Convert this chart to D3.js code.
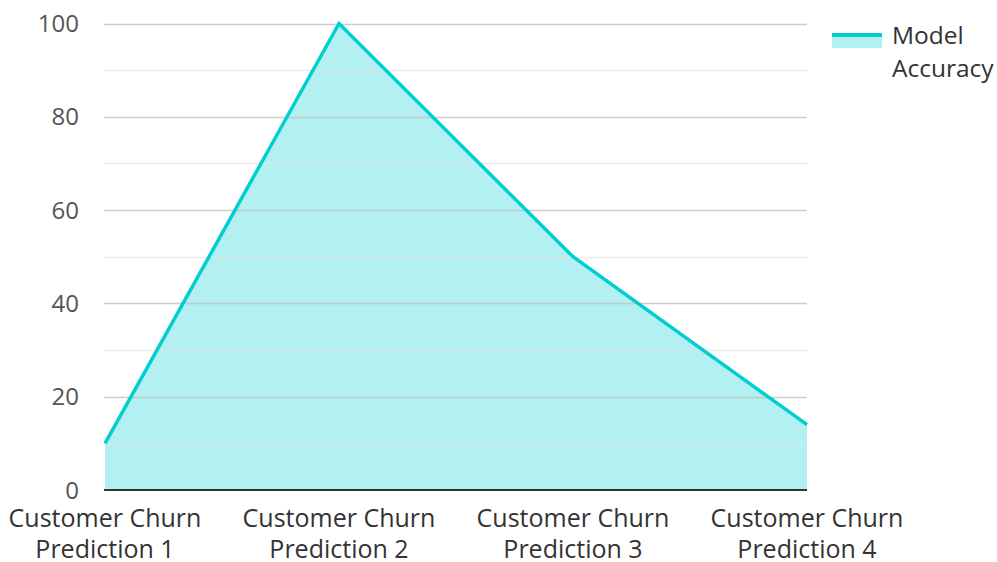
<!DOCTYPE html>
<html><head><meta charset="utf-8">
<script src="https://cdn.jsdelivr.net/npm/d3@7"></script>
<style>body{margin:0;background:#fff;font-family:"Open Sans",sans-serif;}</style>
</head><body>
<svg id="c" width="997" height="562"></svg>
<script>
const categories = ["Customer Churn Prediction 1","Customer Churn Prediction 2","Customer Churn Prediction 3","Customer Churn Prediction 4"];
const seriesName = "Model Accuracy";
const values = [10, 100, 50, 14];
const yTicks = [0, 20, 40, 60, 80, 100];
const yMinor = [10, 30, 50, 70, 90];

(function(){
const svg = d3.select("#c");
const pL = 105, pR = 807, pT = 23.5, pB = 490;
const x = d3.scalePoint().domain(categories).range([pL, pR]);
const y = d3.scaleLinear().domain([0, 100]).range([pB, pT]);

const area = d3.area().x((d,i)=>x(categories[i])).y0(y(0)).y1(d=>y(d));
const line = d3.line().x((d,i)=>x(categories[i])).y(d=>y(d));

svg.append("path").datum(values).attr("d", area).attr("fill", "#00ced1").attr("fill-opacity", 0.3);

svg.append("g").selectAll("line").data(yMinor).join("line")
  .attr("x1", pL-1).attr("x2", pR).attr("y1", d=>Math.round(y(d))+0.5).attr("y2", d=>Math.round(y(d))+0.5)
  .attr("stroke", "#e6e6e6").attr("stroke-width", 1.5).attr("stroke-opacity", 0.7);
svg.append("g").selectAll("line").data(yTicks.filter(d=>d>0)).join("line")
  .attr("x1", pL-1).attr("x2", pR).attr("y1", d=>Math.round(y(d))+0.5).attr("y2", d=>Math.round(y(d))+0.5)
  .attr("stroke", "#c4c4c4").attr("stroke-width", 1.5).attr("stroke-opacity", 0.85);

svg.append("path").datum(values).attr("d", line).attr("fill", "none")
  .attr("stroke", "#00ced1").attr("stroke-width", 3.5).attr("stroke-linejoin", "miter");

svg.append("line").attr("x1", pL-1).attr("x2", pR).attr("y1", pB).attr("y2", pB)
  .attr("stroke", "#333").attr("stroke-width", 2);

svg.append("g").selectAll("text").data(yTicks).join("text")
  .attr("x", 79).attr("y", d=>y(d)+8.5).attr("text-anchor", "end")
  .attr("font-size", 24).attr("fill", "#555").text(d=>d);

const xl = svg.append("g").selectAll("text").data(categories).join("text")
  .attr("text-anchor", "middle").attr("font-size", 25).attr("fill", "#333");
xl.each(function(d){
  const words = d.split(" ");
  const l1 = words.slice(0,2).join(" "), l2 = words.slice(2).join(" ");
  const t = d3.select(this);
  t.append("tspan").attr("x", x(d)).attr("y", 527).text(l1);
  t.append("tspan").attr("x", x(d)).attr("y", 558).text(l2);
});

const lg = svg.append("g");
lg.append("rect").attr("x", 832).attr("y", 35).attr("width", 50).attr("height", 13).attr("fill", "#00ced1").attr("fill-opacity", 0.3);
lg.append("line").attr("x1", 832).attr("x2", 882).attr("y1", 35).attr("y2", 35).attr("stroke", "#00ced1").attr("stroke-width", 4);
const lt = lg.append("text").attr("font-size", 24.5).attr("fill", "#333");
const parts = seriesName.split(" ");
lt.append("tspan").attr("x", 892).attr("y", 44).text(parts[0]);
lt.append("tspan").attr("x", 892).attr("y", 77).text(parts[1]);
})();
</script>
</body></html>
